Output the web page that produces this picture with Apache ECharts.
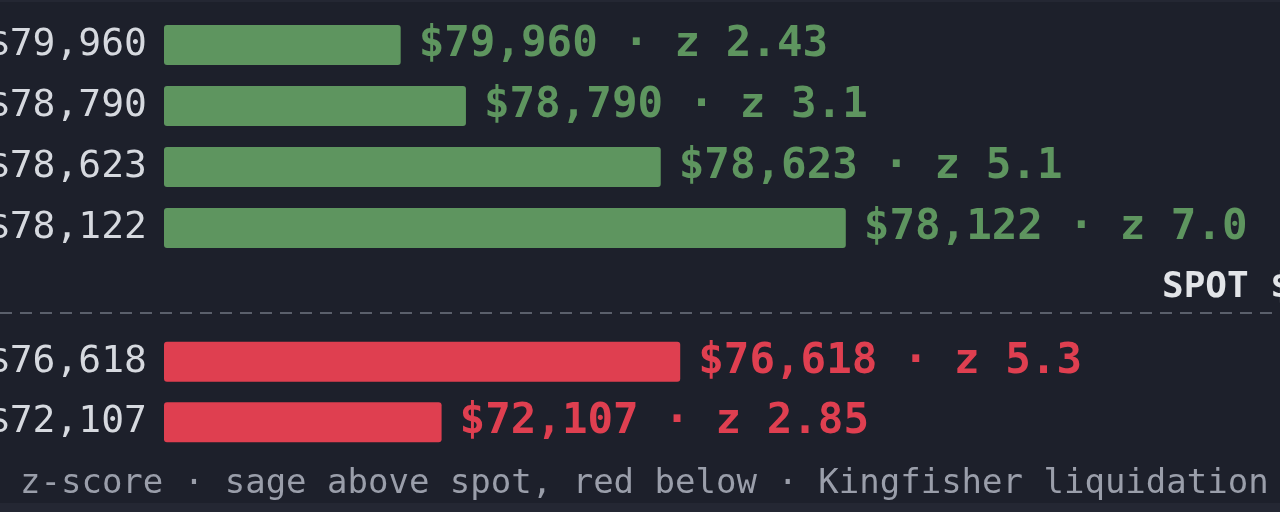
<!DOCTYPE html>
<html>
<head>
<meta charset="utf-8">
<script src="https://cdn.jsdelivr.net/npm/echarts@6/dist/echarts.min.js"></script>
<style>
  html, body { margin: 0; padding: 0; background: #242733; width: 1280px; height: 512px; overflow: hidden; }
  #chart { position: absolute; left: 0; top: 2px; width: 1280px; height: 501px; background: #1d202b; }
</style>
</head>
<body>
<div id="chart"></div>
<script>
// Liquidation clusters above spot (sage) and below spot (red)
const abovePrices = ['$79,960', '$78,790', '$78,623', '$78,122'];
const aboveZ = [2.43, 3.1, 5.1, 7.0];
const aboveZText = ['2.43', '3.1', '5.1', '7.0'];

const belowPrices = ['$76,618', '$72,107'];
const belowZ = [5.3, 2.85];
const belowZText = ['5.3', '2.85'];

const spotLabel = 'SPOT $77,402';
const footerText = 'bar length = z-score · sage above spot, red below · Kingfisher liquidation clusters';

const SAGE = '#5e955f';
const RED = '#df3f50';
const FONT = '"DejaVu Sans Mono", "Liberation Mono", monospace';

const chart = echarts.init(document.getElementById('chart'));

function catAxis(gridIndex, data) {
  return {
    type: 'category', gridIndex: gridIndex, data: data, inverse: true,
    axisLine: { show: false }, axisTick: { show: false },
    axisLabel: { color: '#d6d9df', fontSize: 38, fontFamily: FONT, margin: 17 }
  };
}
function valAxis(gridIndex) {
  return {
    type: 'value', gridIndex: gridIndex, min: 0, max: 10,
    show: false, splitLine: { show: false }
  };
}
function barSeries(idx, values, prices, ztexts, color) {
  return {
    type: 'bar', xAxisIndex: idx, yAxisIndex: idx,
    data: values, barWidth: 40,
    itemStyle: { color: color, borderRadius: 3 },
    label: {
      show: true, position: 'right', distance: 18,
      color: color, fontSize: 42.5, fontWeight: 'bold', fontFamily: FONT,
      formatter: p => prices[p.dataIndex] + ' · z ' + ztexts[p.dataIndex]
    },
    silent: true, animation: false
  };
}

chart.setOption({
  backgroundColor: '#1d202b',
  animation: false,
  grid: [
    { left: 164, right: 142, top: 12.5, height: 244, containLabel: false, outerBoundsMode: 'none' },
    { left: 164, right: 142, top: 329.5, height: 121, containLabel: false, outerBoundsMode: 'none' }
  ],
  xAxis: [valAxis(0), valAxis(1)],
  yAxis: [catAxis(0, abovePrices), catAxis(1, belowPrices)],
  series: [
    barSeries(0, aboveZ, abovePrices, aboveZText, SAGE),
    barSeries(1, belowZ, belowPrices, belowZText, RED)
  ],
  graphic: [
    {
      type: 'line', silent: true,
      shape: { x1: 0, y1: 311, x2: 1280, y2: 311 },
      style: { stroke: '#5a5f6b', lineWidth: 2, lineDash: [12, 8] }
    },
    {
      type: 'text', silent: true, left: 1162, top: 268,
      style: { text: spotLabel, fill: '#e2e4e8', font: 'bold 36px ' + FONT }
    },
    {
      type: 'text', silent: true, left: 20 - 13 * 20.47, top: 465,
      style: { text: footerText, fill: '#9a9eaa', font: '34px ' + FONT }
    }
  ]
});
</script>
</body>
</html>
